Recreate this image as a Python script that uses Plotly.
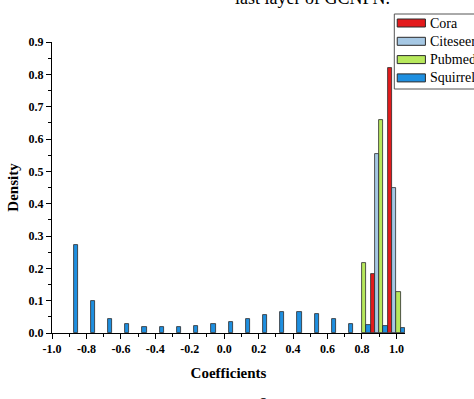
import plotly.graph_objects as go

bin_centers = [-0.85, -0.75, -0.65, -0.55, -0.45, -0.35, -0.25, -0.15, -0.05, 0.05,
               0.15, 0.25, 0.35, 0.45, 0.55, 0.65, 0.75, 0.85, 0.95, 1.05]
squirrel = [0.273, 0.099, 0.044, 0.028, 0.020, 0.018, 0.020, 0.022, 0.027, 0.033,
            0.043, 0.055, 0.065, 0.066, 0.058, 0.042, 0.027, 0.025, 0.023, 0.016]
cora_x = [0.85, 0.95]
cora = [0.184, 0.819]
citeseer_x = [0.85, 0.95]
citeseer = [0.553, 0.447]
pubmed_x = [0.85, 0.95, 1.05]
pubmed = [0.215, 0.658, 0.127]

colors = {"Cora": "#e31a1c", "Citeseer": "#a6c8e4", "Pubmed": "#b7e85c", "Squirrel": "#1e8fe0"}
legend_order = ["Cora", "Citeseer", "Pubmed", "Squirrel"]
outline = dict(color="#2a2a2a", width=0.8)

fig = go.Figure()
# group order inside each bin: Pubmed, Squirrel, Cora, Citeseer
fig.add_trace(go.Bar(x=pubmed_x, y=pubmed, name="Pubmed", marker=dict(color=colors["Pubmed"], line=outline)))
fig.add_trace(go.Bar(x=bin_centers, y=squirrel, name="Squirrel", marker=dict(color=colors["Squirrel"], line=outline)))
fig.add_trace(go.Bar(x=cora_x, y=cora, name="Cora", marker=dict(color=colors["Cora"], line=outline)))
fig.add_trace(go.Bar(x=citeseer_x, y=citeseer, name="Citeseer", marker=dict(color=colors["Citeseer"], line=outline)))

W, H = 474, 399
L, R, T, B = 42, 69, 42, 66
pw, ph = W - L - R, H - T - B

def px(x):
    return (x - L) / pw

def py(y):
    return (H - B - y) / ph

serif = "Liberation Serif"
shapes = []
annotations = []
# manual legend
shapes.append(dict(type="rect", xref="paper", yref="paper", x0=px(394), x1=px(480), y0=py(89), y1=py(14),
                   line=dict(color="#555555", width=1), fillcolor="white", layer="above"))
for i, name in enumerate(legend_order):
    cy = 23 + i * 18.3
    shapes.append(dict(type="rect", xref="paper", yref="paper", x0=px(397), x1=px(426), y0=py(cy + 4), y1=py(cy - 4),
                       line=dict(color="#2a2a2a", width=1), fillcolor=colors[name], layer="above"))
    annotations.append(dict(text=name, xref="paper", yref="paper", x=px(429), y=py(cy), xanchor="left", yanchor="middle",
                            showarrow=False, font=dict(family=serif, size=14, color="black")))

# clipped title and caption
annotations.append(dict(text="last layer of GCNFN.", xref="paper", yref="paper", x=px(310), y=py(-2), xanchor="center",
                        yanchor="middle", showarrow=False, font=dict(family=serif, size=18, color="black")))
annotations.append(dict(text="<i>c</i>", xref="paper", yref="paper", x=px(258), y=py(401), xanchor="center",
                        yanchor="middle", showarrow=False, font=dict(family=serif, size=18, color="black")))

fig.update_layout(
    width=W, height=H,
    margin=dict(l=L, r=R, t=T, b=B),
    plot_bgcolor="white", paper_bgcolor="white",
    barmode="group", bargap=0, bargroupgap=0,
    showlegend=False,
    shapes=shapes, annotations=annotations,
    font=dict(family=serif, color="black"),
)
fig.update_xaxes(
    range=[-1.0, 1.05], tickmode="array",
    tickvals=[-1.0, -0.8, -0.6, -0.4, -0.2, 0.0, 0.2, 0.4, 0.6, 0.8, 1.0],
    ticktext=["-1.0", "-0.8", "-0.6", "-0.4", "-0.2", "0.0", "0.2", "0.4", "0.6", "0.8", "1.0"],
    ticks="outside", ticklen=5, tickwidth=1, tickcolor="black",
    minor=dict(dtick=0.1, tick0=-1.0, ticks="outside", ticklen=3, tickcolor="black", showgrid=False),
    showline=True, linecolor="black", linewidth=1, showgrid=False, zeroline=False,
    tickfont=dict(family=serif, size=12, weight="bold"),
    title=dict(text="Coefficients", font=dict(family=serif, size=15, weight="bold"), standoff=12),
)
fig.update_yaxes(
    range=[0, 0.9], dtick=0.1, tickformat=".1f",
    ticks="outside", ticklen=5, tickwidth=1, tickcolor="black",
    minor=dict(dtick=0.05, ticks="outside", ticklen=3, tickcolor="black", showgrid=False),
    showline=True, linecolor="black", linewidth=1, showgrid=False, zeroline=False,
    tickfont=dict(family=serif, size=12, weight="bold"),
    title=dict(text="Density", font=dict(family=serif, size=15, weight="bold"), standoff=6),
)
fig.write_html("out.html", config={"displayModeBar": False},
               post_script="document.body.style.margin='0';document.body.style.overflow='hidden';")
